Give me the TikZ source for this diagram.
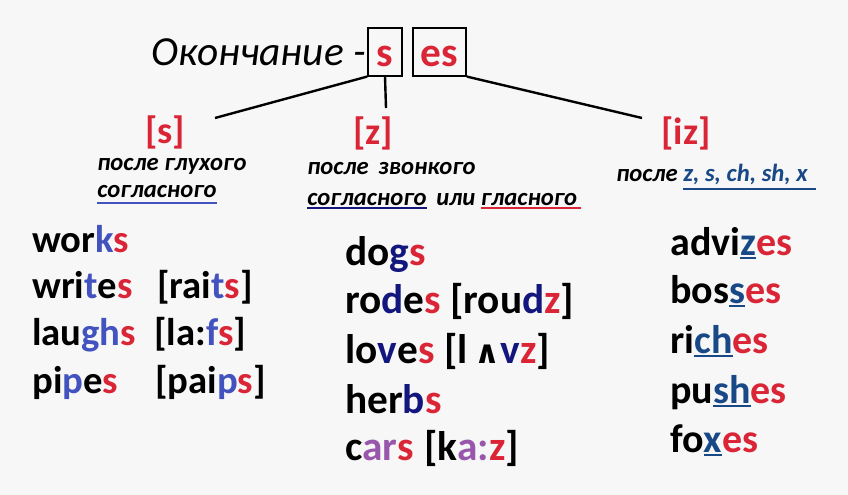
\documentclass[tikz,border=0pt]{standalone}
\usepackage{fontspec}
\setmainfont{Carlito}
\newfontfamily\dejavu{DejaVu Sans}
\usetikzlibrary{positioning}

\definecolor{endred}{RGB}{218,37,55}
\definecolor{softblue}{RGB}{66,82,190}
\definecolor{navyblue}{RGB}{18,22,125}
\definecolor{lilac}{RGB}{152,86,172}
\definecolor{seablue}{RGB}{25,72,135}
\definecolor{paper}{RGB}{247,247,247}

\newcommand{\rd}[1]{\textcolor{endred}{#1}}
\newcommand{\bl}[1]{\textcolor{softblue}{#1}}
\newcommand{\nv}[1]{\textcolor{navyblue}{#1}}
\newcommand{\lc}[1]{\textcolor{lilac}{#1}}
\newsavebox{\ulbox}
% underline: colour, depth below baseline, text
\newcommand{\undl}[3]{\sbox{\ulbox}{#3}\rlap{\color{#1}\rule[-#2]{\wd\ulbox}{1.7pt}}\usebox{\ulbox}}

\begin{document}
\begin{tikzpicture}[
            x=0.75pt, y=-0.75pt,
            word/.style={anchor=base west,inner sep=0pt,font=\bfseries\fontsize{#1}{#1}\selectfont},
            word/.default=29,
            sound/.style={anchor=base,inner sep=0pt,text=endred,font=\bfseries\fontsize{28.5}{28.5}\selectfont},
            note/.style={anchor=base west,inner sep=0pt,font=\bfseries\itshape\fontsize{18.5}{18.5}\selectfont},
            ending box/.style={draw,line width=1.4pt,anchor=base,inner sep=0pt,text height=29pt,text depth=6.5pt,text=endred,font=\bfseries\fontsize{31}{31}\selectfont},
            every edge/.style={draw,line width=1.8pt},
        ]
            \fill[paper] (0,0) rectangle (848,495);
            \useasboundingbox (0,0) rectangle (848,495);

            % heading
            \node[ending box,minimum width=25.5pt] (box s) at (385,67) {s};
            \node[ending box,minimum width=39.75pt] (box es) at (439.5,67) {es};
            \node[anchor=base east,inner sep=0pt,font=\itshape\fontsize{31}{31}\selectfont] (title) at (366,66) {Окончание -};

            % sounds
            \node[sound] (snd s) at (165,144) {[s]};
            \node[sound] (snd z) at (373,145) {[z]};
            \node[sound] (snd iz) at (686,145) {[iz]};
            \coordinate (end s) at (215,118);
            \coordinate (end z) at (386,108);
            \coordinate (end iz) at (642,118);
            \path (box s.south west) edge (end s);
            \path (box s.south) edge (end z);
            \path (box es.south east) edge (end iz);

            % rules
            \node[note] (rule s1) at (97,171) {после глухого};
            \node[note] (rule s2) at (97,198) {\undl{softblue}{4.5pt}{согласного}};
            \node[note] (rule z1) at (307,175) {после\, звонкого};
            \node[note] (rule z2) at (307,205) {\undl{navyblue}{3pt}{согласного}\, или \undl{endred}{3pt}{гласного\,}};
            \node[note] (rule iz) at (616,182) {после \textcolor{seablue}{\undl{seablue}{6pt}{z, s, ch, sh, x\hspace{6pt}}}};

            % [s] words
            \node[word] (works) at (32,252) {wor\bl{k}\rd{s}};
            \node[word] (writes) at (32,298) {wri\bl{t}e\rd{s}};
            \node[word] (laughs) at (32,345) {lau\bl{gh}\rd{s}};
            \node[word] (pipes) at (32,393) {pi\bl{p}e\rd{s}};
            \node[word] (writes tr) at (157,298) {[rai\bl{t}\rd{s}]};
            \node[word] (laughs tr) at (154,345) {[la:\bl{f}\rd{s}]};
            \node[word] (pipes tr) at (155,393) {[pai\bl{p}\rd{s}]};

            % [z] words
            \node[word=31] (dogs) at (345,265) {do\nv{g}\rd{s}};
            \node[word=31] (rodes) at (345,313) {ro\nv{d}e\rd{s}};
            \node[word=31] (loves) at (345,363) {lo\nv{v}e\rd{s}};
            \node[word=31] (herbs) at (345,413) {her\nv{b}\rd{s}};
            \node[word=31] (cars) at (345,460) {c\lc{ar}\rd{s}};
            \node[word=31] (rodes tr) at (450,313) {[rou\nv{d}\rd{z}]};
            \node[word=31] (loves tr) at (444,363) {[l\,{\dejavu\fontsize{24}{24}\selectfont ∧}\nv{v}\rd{z}]};
            \node[word=31] (cars tr) at (424,460) {[k\lc{a:}\rd{z}]};

            % [iz] words
            \node[word=30] (advizes) at (670,255) {advi\undl{seablue}{3pt}{\textcolor{seablue}{z}}\rd{es}};
            \node[word=30] (bosses) at (670,303) {bos\undl{seablue}{3pt}{\textcolor{seablue}{s}}\rd{es}};
            \node[word=30] (riches) at (670,353) {ri\undl{seablue}{3pt}{\textcolor{seablue}{ch}}\rd{es}};
            \node[word=30] (pushes) at (670,403) {pu\undl{seablue}{3pt}{\textcolor{seablue}{sh}}\rd{es}};
            \node[word=30] (foxes) at (670,452) {fo\undl{seablue}{3pt}{\textcolor{seablue}{x}}\rd{es}};
        \end{tikzpicture}
\end{document}
